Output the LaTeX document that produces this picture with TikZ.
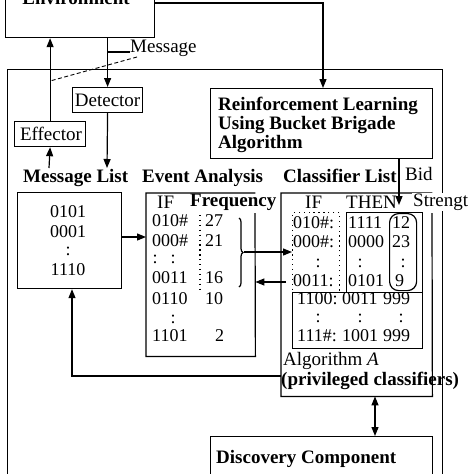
\documentclass[tikz,border=0pt]{standalone}
\usepackage{fontspec}
\setmainfont{Liberation Serif}
\usetikzlibrary{arrows.meta,decorations.pathreplacing}
\begin{document}
\begin{tikzpicture}[x=1pt,y=-1pt,
 box/.style={draw,line width=1.2pt,inner sep=0pt,anchor=north west},
 ghost/.style={inner sep=0pt,anchor=north west},
 arr/.style={line width=1.2pt,-{Triangle[length=9pt,width=7pt]}},
 dbl/.style={line width=1.2pt,{Triangle[length=9pt,width=7pt]}-{Triangle[length=9pt,width=7pt]}},
 ln/.style={line width=1.2pt},
 dots/.style={line width=1.3pt,dash pattern=on 1.3pt off 3.6pt},
 txt/.style={inner sep=0pt,font=\fontsize{19}{19}\selectfont},
 btxt/.style={inner sep=0pt,font=\fontsize{19}{19}\selectfont\bfseries},
 num/.style={inner sep=0pt,font=\fontsize{18}{18}\selectfont,anchor=west},
 cnum/.style={inner sep=0pt,font=\fontsize{18}{18}\selectfont},
]
\useasboundingbox (0,0) rectangle (474,474);
\fill[white] (0,0) rectangle (474,474);

% boxes
\node[box,minimum width=149pt,minimum height=47pt] (env) at (5,-10) {};
\node[box,minimum width=435pt,minimum height=420pt] (outer) at (7,69) {};
\node[box,minimum width=70pt,minimum height=25pt] (det) at (72,87) {};
\node[box,minimum width=71pt,minimum height=25pt] (eff) at (14,121) {};
\node[box,minimum width=222pt,minimum height=70pt] (rl) at (210,88) {};
\node[box,minimum width=104pt,minimum height=96pt] (ml) at (17,192) {};
\node[ghost,minimum width=109pt,minimum height=163pt] (ea) at (146,193) {};
\node[ghost,minimum width=151pt,minimum height=203pt] (cl) at (281,193) {};
\node[box,dots,minimum width=47pt,minimum height=80pt] (ifb) at (292,212) {};
\node[box,minimum width=76pt,minimum height=80pt] (thb) at (346,212) {};
\node[box,rounded corners=9pt,minimum width=27pt,minimum height=77pt] (stb) at (389,213) {};
\node[box,minimum width=130pt,minimum height=56pt] (prb) at (292,292) {};
\node[box,minimum width=222pt,minimum height=60pt] (disc) at (210,436) {};

% open boxes
\draw[ln] (255,213) -- (ea.south east) -- (ea.south west) -- (ea.north west) -- (ea.north east);
\draw[ln] (432,213) -- (cl.south east) -- (cl.south west) -- (cl.north west) -- (cl.north east);

% texts
\node[btxt,anchor=base] (envt) at (76,4) {Environment};
\node[txt,anchor=west] (msg) at (130,48) {Message};
\node[txt] at (det.center) {Detector};
\node[txt] at (51,134) {Effector};
\node[btxt,anchor=base west,align=left] at (218,148) {Reinforcement Learning\\Using Bucket Brigade\\Algorithm};
\node[txt,anchor=west] (bid) at (405,174) {Bid};
\node[btxt,anchor=base west] at (23,182) {Message List};
\node[btxt,anchor=base west] at (142,182) {Event Analysis};
\node[btxt,anchor=base west] at (283,182) {Classifier List};

% message list content
\node[cnum] at (68,212) {0101};
\node[cnum] at (68,232) {0001};
\node[cnum] at (68,251) {:};
\node[cnum] at (68,270) {1110};

% event analysis content
\node[txt,anchor=west] at (157,202) {IF};
\node[btxt,anchor=west] at (190,202) {Frequency};
\draw[dots] (200,215) -- (200,292);
\node[num] at (152,221) {010\#};   \node[num] at (205,221) {27};
\node[num] at (152,241) {000\#};   \node[num] at (205,241) {21};
\node[cnum] at (155,259) {:};      \node[cnum] at (173,259) {:};
\node[num] at (152,278) {0011};    \node[num] at (205,278) {16};
\node[num] at (152,299) {0110};    \node[num] at (205,299) {10};
\node[cnum] at (173,319) {:};
\node[num] at (152,336) {1101};    \node[num] at (215,336) {2};
\draw[ln,decorate,decoration={brace,amplitude=4pt}] (239,218) -- (239,287);
\coordinate (tip) at (244,252);

% classifier content
\node[txt,anchor=west] at (305,202) {IF};
\node[txt,anchor=west] at (346,202) {THEN};
\node[txt,anchor=west,fill=white,inner sep=1pt] at (412,202) {Strengt};
\node[num] at (293,223) {010\#:};  \node[num] at (348,223) {1111};  \node[num] at (392,223) {12};
\node[num] at (293,242) {000\#:};  \node[num] at (348,242) {0000};  \node[num] at (392,242) {23};
\node[cnum] at (318,263) {:}; \node[cnum] at (360,263) {:}; \node[cnum] at (403,263) {:};
\node[num] at (293,281) {0011:};   \node[num] at (348,281) {0101};  \node[num] at (395,281) {9};
\node[num] at (297,299) {1100:};   \node[num] at (342,299) {0011};  \node[num] at (383,299) {999};
\node[cnum] at (318,318) {:}; \node[cnum] at (360,318) {:}; \node[cnum] at (401,318) {:};
\node[num] at (297,336) {111\#:};  \node[num] at (342,336) {1001};  \node[num] at (383,336) {999};
\node[txt,anchor=west] at (283,361) {Algorithm \textit{A}};
\node[btxt,anchor=west] at (281,381) {(privileged classifiers)};
\node[btxt,anchor=west] at (216,459) {Discovery Component};

% connectors
\draw[arr] (env.east |- 0,3) -- (323,3) -- (rl.north -| 323,0);
\draw[arr] (env.south -| det.north) -- (det.north);
\draw[ln] (107,52) -- (msg.west |- 0,52);
\draw[line width=0.9pt,dash pattern=on 4pt off 2.5pt] (137,57) -- (50,81);
\draw[arr] (eff.north) -- (env.south -| eff.north);
\coordinate (mltop) at (107,168);
\draw[arr] (det.south) -- (mltop);
\coordinate (mlbot) at (49,168);
\draw[arr] (mlbot) -- (eff.south);
\draw[arr] (rl.south -| 399,0) -- (399,205);
\draw[arr] (ml.east |- 0,237) -- (ea.west |- 0,237);
\draw[arr] (tip) -- (ifb.west |- 0,252);
\draw[arr] (286,282) -- (ea.east |- 0,282);
\draw[arr] (cl.west |- 0,376) -- (72,376) -- (ml.south -| 72,0);
\draw[dbl] (cl.south -| 375,0) -- (disc.north -| 375,0);
\end{tikzpicture}
\end{document}
